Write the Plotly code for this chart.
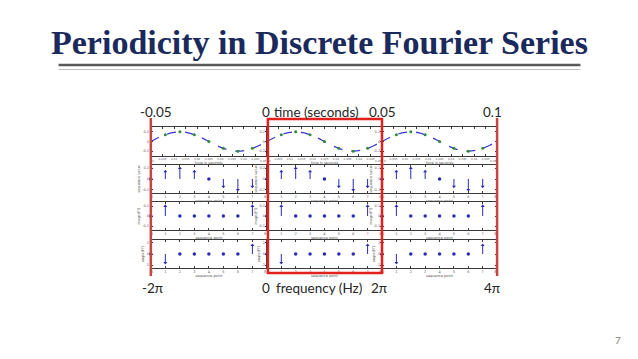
import plotly.graph_objects as go

W, H = 638, 359

# ---------------- data ----------------
title_text = "Periodicity in Discrete Fourier Series"
top_labels = ["-0.05", "0", "time (seconds)", "0.05", "0.1"]
bottom_labels = ["-2π", "0", "frequency (Hz)", "2π", "4π"]

# continuous sinusoid (one period)
t_curve = [0, 0.003125, 0.00625, 0.009375, 0.0125, 0.015625, 0.01875, 0.021875, 0.025,
           0.028125, 0.03125, 0.034375, 0.0375, 0.040625, 0.04375, 0.046875, 0.05]
x_curve = [0, 0.077, 0.141, 0.185, 0.2, 0.185, 0.141, 0.077, 0,
           -0.077, -0.141, -0.185, -0.2, -0.185, -0.141, -0.077, 0]
# samples
t_samp = [0, 0.00625, 0.0125, 0.01875, 0.025, 0.03125, 0.0375, 0.04375]
n_idx = [0, 1, 2, 3, 4, 5, 6, 7]
seq_vals = [0, 0.141, 0.2, 0.141, 0, -0.141, -0.2, -0.141]
mag_vals = [0, 0.1, 0, 0, 0, 0, 0, 0.1]
phase_vals = [0, -1.57, 0, 0, 0, 0, 0, 1.57]

time_ticks = [0, 0.005, 0.01, 0.015, 0.02, 0.025, 0.03, 0.035, 0.04, 0.045, 0.05]
time_ticklabels = ["0", "0.005", "0.01", "0.015", "0.02", "0.025", "0.03", "0.035", "0.04", "0.045", "0.05"]
seq_ticks = [0, 1, 2, 3, 4, 5, 6, 7, 8]
seq_ticklabels = ["0", "1", "2", "3", "4", "5", "6", "7", "8"]

# ---------------- layout helpers ----------------
def xd(px):
    return px / W

def yd(py):
    return 1 - py / H

NB = "\u00a0"

def edge_pad(labels):
    out = list(labels)
    out[0] = NB * 2 + out[0]
    out[-1] = out[-1] + NB * 3
    return out

cols = [(150, 267), (267, 383), (383, 499)]
rows = [(127, 156), (165, 193), (202, 230), (240, 268)]

row_specs = [
    dict(yr=[-0.3, 0.3], yt=[-0.2, 0, 0.2], ytl=["-0.2", "0", "0.2"], ytitle="", xtitle="time in seconds"),
    dict(yr=[-0.26, 0.26], yt=[-0.2, 0, 0.2], ytl=["-0.2", "0", "0.2"], ytitle="sequence value", xtitle="sequence point"),
    dict(yr=[-0.14, 0.14], yt=[-0.1, 0, 0.1], ytl=["-0.1", "0", "0.1"], ytitle="magn(FT)", xtitle="sequence point"),
    dict(yr=[-2.5, 2.5], yt=[-2, 0, 2], ytl=["-2", "0", "2"], ytitle="angle(FT)", xtitle="sequence point"),
]

BLUE = "#2b2bb5"
GREEN = "#2e8b3a"
FRAME = "#3a3a3a"
TICKF = dict(family="DejaVu Sans", size=3.5, color="#555555")
TIMEF = dict(family="DejaVu Sans", size=2.8, color="#555555")

fig = go.Figure()
layout = dict(width=W, height=H, autosize=False, margin=dict(l=0, r=0, t=0, b=0),
              paper_bgcolor="white", plot_bgcolor="white", showlegend=False)
annotations = []

def stem_xy(vals):
    xs, ys = [], []
    for n, v in zip(n_idx, vals):
        if v != 0:
            xs += [n, n, None]
            ys += [0, v, None]
    return xs, ys

stem_data = [seq_vals, mag_vals, phase_vals]

for r, (ty, by) in enumerate(rows):
    spec = row_specs[r]
    for c, (lx, rx) in enumerate(cols):
        k = r * 3 + c + 1
        xa = "x" if k == 1 else f"x{k}"
        ya = "y" if k == 1 else f"y{k}"
        xkey = "xaxis" if k == 1 else f"xaxis{k}"
        ykey = "yaxis" if k == 1 else f"yaxis{k}"
        if r == 0:
            # edge labels drawn separately, anchored inward, so neighbouring panels don't collide
            inner = [""] + time_ticklabels[1:-1] + [""]
            xaxis = dict(range=[0, 0.05], tickvals=time_ticks, ticktext=inner, tickfont=TIMEF)
            annotations.append(dict(text=time_ticklabels[0], x=0, y=yd(157.8), xref=xa, yref="paper",
                                    showarrow=False, xanchor="left", yanchor="top", font=TIMEF,
                                    xshift=0.6, borderpad=0))
            annotations.append(dict(text=time_ticklabels[-1], x=0.05, y=yd(157.8), xref=xa, yref="paper",
                                    showarrow=False, xanchor="right", yanchor="top", font=TIMEF,
                                    xshift=0, borderpad=0))
        else:
            xaxis = dict(range=[0, 8], tickvals=seq_ticks, ticktext=edge_pad(seq_ticklabels), tickfont=TICKF)
        xaxis.update(domain=[xd(lx), xd(rx)], anchor=ya, showgrid=False, zeroline=False,
                     showline=True, linecolor=FRAME, linewidth=1.2, mirror="allticks",
                     ticks="inside", ticklen=2, tickcolor=FRAME, tickangle=0,
                     title=dict(text=spec["xtitle"], font=TICKF, standoff=0), fixedrange=True)
        yaxis = dict(domain=[yd(by), yd(ty)], anchor=xa, range=spec["yr"], tickvals=spec["yt"],
                     ticktext=spec["ytl"], showgrid=False, zeroline=False, showline=True,
                     linecolor=FRAME, linewidth=1.2, mirror="allticks", ticks="inside", ticklen=2,
                     tickcolor=FRAME, tickfont=TICKF,
                     title=dict(text=spec["ytitle"], font=TICKF, standoff=1), fixedrange=True)
        layout[xkey] = xaxis
        layout[ykey] = yaxis

        if r == 0:
            fig.add_trace(go.Scatter(x=t_curve, y=x_curve, mode="lines", line_shape="spline",
                                     line=dict(color="#3a3ad0", width=1.3, dash="dash"),
                                     xaxis=xa, yaxis=ya, hoverinfo="skip", cliponaxis=False))
            fig.add_trace(go.Scatter(x=t_samp, y=[x_curve[2 * i] for i in range(8)], mode="markers",
                                     marker=dict(color=GREEN, size=3),
                                     xaxis=xa, yaxis=ya, hoverinfo="skip"))
        else:
            vals = stem_data[r - 1]
            sx, sy = stem_xy(vals)
            fig.add_trace(go.Scatter(x=sx, y=sy, mode="lines", line=dict(color=BLUE, width=1),
                                     xaxis=xa, yaxis=ya, hoverinfo="skip"))
            syms = ["triangle-up" if v > 0 else ("triangle-down" if v < 0 else "circle") for v in vals]
            fig.add_trace(go.Scatter(x=n_idx, y=vals, mode="markers",
                                     marker=dict(color=BLUE, size=3.5, symbol=syms),
                                     xaxis=xa, yaxis=ya, hoverinfo="skip", cliponaxis=False))

# title
annotations.append(dict(text="<b>" + title_text + "</b>", x=xd(320), y=yd(43), xref="paper", yref="paper",
                        showarrow=False, xanchor="center", yanchor="middle",
                        font=dict(family="Liberation Serif", size=34, color="#1a2a5c")))
LBLF = dict(family="Lato", size=13.5, color="#262626")
top_x = [155, 266, 317, 384, 494]
for txt, px in zip(top_labels, top_x):
    annotations.append(dict(text=txt, x=xd(px), y=yd(112), xref="paper", yref="paper", showarrow=False,
                            xanchor="center", yanchor="middle", font=LBLF))
bot_x = [152, 266, 320, 380, 494]
for txt, px in zip(bottom_labels, bot_x):
    annotations.append(dict(text=txt, x=xd(px), y=yd(288), xref="paper", yref="paper", showarrow=False,
                            xanchor="center", yanchor="middle", font=LBLF))
annotations.append(dict(text="7", x=xd(621), y=yd(340), xref="paper", yref="paper", showarrow=False,
                        xanchor="center", yanchor="middle",
                        font=dict(family="Lato", size=10, color="#7f7f7f")))
layout["annotations"] = annotations

shapes = []
# underline of title
shapes.append(dict(type="line", xref="paper", yref="paper", x0=xd(57), x1=xd(583), y0=yd(65), y1=yd(65),
                   line=dict(color="#595959", width=2.5)))
shapes.append(dict(type="line", xref="paper", yref="paper", x0=xd(57), x1=xd(583), y0=yd(69.5), y1=yd(69.5),
                   line=dict(color="#bfbfbf", width=1)))
# red markers
for px in [150, 499]:
    shapes.append(dict(type="line", xref="paper", yref="paper", x0=xd(px), x1=xd(px), y0=yd(118), y1=yd(276),
                       line=dict(color="#c8453f", width=2.5)))
shapes.append(dict(type="rect", xref="paper", yref="paper", x0=xd(268), x1=xd(383), y0=yd(273), y1=yd(119),
                   line=dict(color="#e3211c", width=2.5)))
layout["shapes"] = shapes

fig.update_layout(**layout)
fig.write_html("out.html", config={"displayModeBar": False},
               post_script="document.body.style.margin='0';document.body.style.overflow='hidden';")
